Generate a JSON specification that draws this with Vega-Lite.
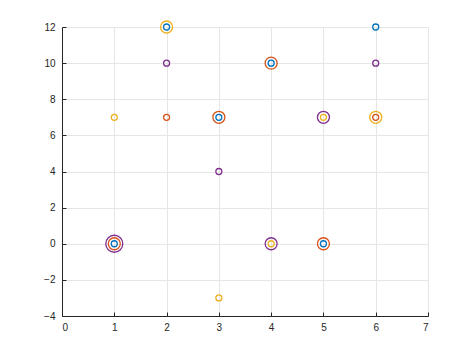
{
  "$schema": "https://vega.github.io/schema/vega-lite/v6.json",
  "width": 366,
  "height": 289,
  "autosize": {"type": "none"},
  "padding": {"left": 62, "top": 27, "right": 46, "bottom": 39},
  "background": "white",
  "config": {
    "view": {"stroke": null},
    "axis": {
      "labelFont": "Liberation Sans",
      "labelFontSize": 10,
      "labelColor": "#262626",
      "domainColor": "#262626",
      "tickColor": "#262626",
      "gridColor": "#e6e6e6",
      "gridOpacity": 1,
      "tickSize": -4,
      "title": null
    }
  },
  "data": {
    "values": [
      {"x": 1, "y": 0, "series": "S4", "level": 3},
      {"x": 1, "y": 0, "series": "S2", "level": 2},
      {"x": 1, "y": 0, "series": "S1", "level": 1},
      {"x": 2, "y": 12, "series": "S3", "level": 2},
      {"x": 2, "y": 12, "series": "S1", "level": 1},
      {"x": 3, "y": 7, "series": "S2", "level": 2},
      {"x": 3, "y": 7, "series": "S1", "level": 1},
      {"x": 4, "y": 10, "series": "S2", "level": 2},
      {"x": 4, "y": 10, "series": "S1", "level": 1},
      {"x": 5, "y": 7, "series": "S4", "level": 2},
      {"x": 5, "y": 7, "series": "S3", "level": 1},
      {"x": 6, "y": 7, "series": "S3", "level": 2},
      {"x": 6, "y": 7, "series": "S2", "level": 1},
      {"x": 4, "y": 0, "series": "S4", "level": 2},
      {"x": 4, "y": 0, "series": "S3", "level": 1},
      {"x": 5, "y": 0, "series": "S2", "level": 2},
      {"x": 5, "y": 0, "series": "S1", "level": 1},
      {"x": 6, "y": 12, "series": "S1", "level": 1},
      {"x": 6, "y": 10, "series": "S4", "level": 1},
      {"x": 1, "y": 7, "series": "S3", "level": 1},
      {"x": 2, "y": 7, "series": "S2", "level": 1},
      {"x": 2, "y": 10, "series": "S4", "level": 1},
      {"x": 3, "y": 4, "series": "S4", "level": 1},
      {"x": 3, "y": -3, "series": "S3", "level": 1}
    ]
  },
  "mark": {"type": "point", "shape": "circle", "filled": false, "strokeWidth": 1.3, "opacity": 1},
  "encoding": {
    "x": {
      "field": "x", "type": "quantitative",
      "scale": {"domain": [0, 7], "nice": false, "zero": false},
      "axis": {"values": [0, 1, 2, 3, 4, 5, 6, 7], "labelPadding": 10, "grid": true}
    },
    "y": {
      "field": "y", "type": "quantitative",
      "scale": {"domain": [-4, 12], "nice": false, "zero": false},
      "axis": {"values": [-4, -2, 0, 2, 4, 6, 8, 10, 12], "labelPadding": 11, "grid": true}
    },
    "color": {
      "field": "series", "type": "nominal",
      "scale": {"domain": ["S1", "S2", "S3", "S4"], "range": ["#0072BD", "#D95319", "#EDB120", "#7E2F8E"]},
      "legend": null
    },
    "size": {
      "field": "level", "type": "quantitative",
      "scale": {"type": "linear", "domain": [1, 2, 3], "range": [36, 144, 289], "zero": false},
      "legend": null
    },
    "order": {"field": "level", "sort": "descending"}
  }
}
